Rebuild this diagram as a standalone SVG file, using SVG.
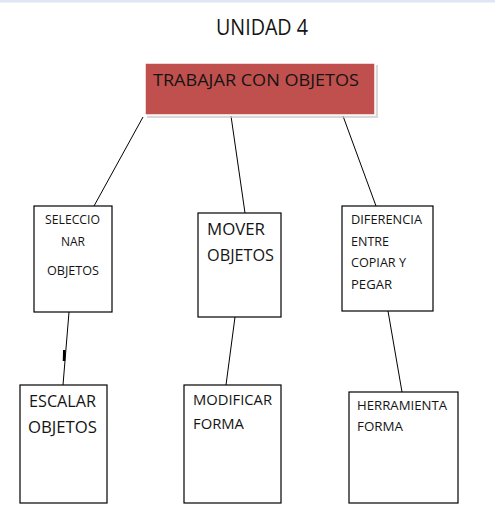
<svg xmlns="http://www.w3.org/2000/svg" width="495" height="523" viewBox="0 0 495 523">
<style>
.t{font-family:"Open Sans","Noto Sans","Liberation Sans",sans-serif;fill:#141414;}
.box{fill:#ffffff;stroke:#000000;stroke-width:1.2;}
.ln{stroke:#000000;stroke-width:1;fill:none;}
</style>
<rect x="0" y="0" width="495" height="523" fill="#ffffff"/>
<rect x="0" y="0" width="495" height="2.5" fill="#dfe6f3"/>
<g id="title">
<text class="t" x="216" y="35" font-size="22" textLength="92" lengthAdjust="spacingAndGlyphs">UNIDAD 4</text>
</g>
<g id="connectors">
<line class="ln" x1="143" y1="117" x2="94" y2="206"/>
<line class="ln" x1="231" y1="116" x2="245" y2="213"/>
<line class="ln" x1="343" y1="116" x2="376" y2="206"/>
<line class="ln" x1="69" y1="312" x2="63" y2="385"/>
<line x1="64.3" y1="350" x2="64" y2="361" stroke="#000000" stroke-width="2.5"/>
<line class="ln" x1="235" y1="317" x2="226" y2="385"/>
<line class="ln" x1="388" y1="311" x2="402" y2="392"/>
</g>
<g id="trabajar">
<rect x="147" y="65" width="231" height="53" fill="#c8c8c8" opacity="0.7"/>
<rect x="145" y="63" width="230" height="52" fill="#c0504d" stroke="#ffffff" stroke-width="1.5"/>
<text class="t" x="153" y="86" font-size="17" textLength="206" lengthAdjust="spacingAndGlyphs">TRABAJAR CON OBJETOS</text>
</g>
<g id="seleccionar">
<rect class="box" x="34" y="206" width="78" height="106"/>
<text class="t" x="45" y="224" font-size="12" textLength="55" lengthAdjust="spacingAndGlyphs">SELECCIO</text>
<text class="t" x="61" y="246" font-size="12" textLength="24" lengthAdjust="spacingAndGlyphs">NAR</text>
<text class="t" x="47" y="275" font-size="12" textLength="52" lengthAdjust="spacingAndGlyphs">OBJETOS</text>
</g>
<g id="mover">
<rect class="box" x="198" y="213" width="83" height="104"/>
<text class="t" x="207" y="235" font-size="16" textLength="58" lengthAdjust="spacingAndGlyphs">MOVER</text>
<text class="t" x="207" y="261" font-size="16" textLength="67" lengthAdjust="spacingAndGlyphs">OBJETOS</text>
</g>
<g id="diferencia">
<rect class="box" x="342" y="206" width="91" height="105"/>
<text class="t" x="351" y="224" font-size="12" textLength="71" lengthAdjust="spacingAndGlyphs">DIFERENCIA</text>
<text class="t" x="351" y="246" font-size="12" textLength="38" lengthAdjust="spacingAndGlyphs">ENTRE</text>
<text class="t" x="351" y="267" font-size="12" textLength="55" lengthAdjust="spacingAndGlyphs">COPIAR Y</text>
<text class="t" x="351" y="289" font-size="12" textLength="41" lengthAdjust="spacingAndGlyphs">PEGAR</text>
</g>
<g id="escalar">
<rect class="box" x="20" y="385" width="87" height="118"/>
<text class="t" x="29" y="407" font-size="16" textLength="67" lengthAdjust="spacingAndGlyphs">ESCALAR</text>
<text class="t" x="28" y="433" font-size="16" textLength="69" lengthAdjust="spacingAndGlyphs">OBJETOS</text>
</g>
<g id="modificar">
<rect class="box" x="184" y="385" width="97" height="118"/>
<text class="t" x="193" y="405" font-size="15" textLength="79" lengthAdjust="spacingAndGlyphs">MODIFICAR</text>
<text class="t" x="193" y="429" font-size="15" textLength="51" lengthAdjust="spacingAndGlyphs">FORMA</text>
</g>
<g id="herramienta">
<rect class="box" x="349" y="392" width="109" height="111"/>
<text class="t" x="357" y="410" font-size="13" textLength="90" lengthAdjust="spacingAndGlyphs">HERRAMIENTA</text>
<text class="t" x="357" y="431" font-size="13" textLength="46" lengthAdjust="spacingAndGlyphs">FORMA</text>
</g>
</svg>
